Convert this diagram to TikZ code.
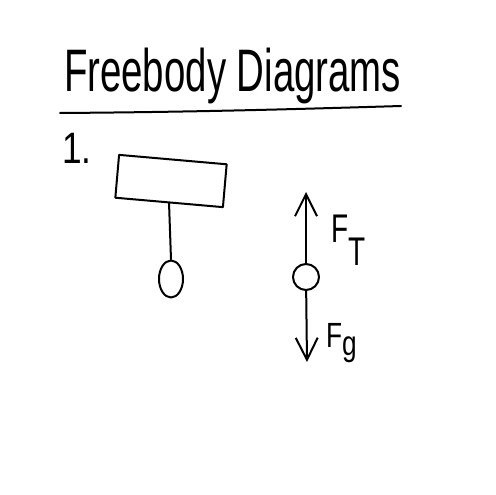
\documentclass[tikz,border=0pt]{standalone}
\usepackage{fontspec}
\setmainfont{Liberation Sans}
\usetikzlibrary{shapes.geometric}
\usetikzlibrary{positioning}
\usetikzlibrary{arrows.meta}

\begin{document}
\begin{tikzpicture}[x=1pt,y=-1pt,line width=2pt,line cap=round,line join=round,
	>={Straight Barb[length=22pt,width=22pt]},
	force/.style={->},
	hand/.style={inner sep=0pt,outer sep=0pt},
	block node/.style={draw,rectangle,minimum width=108pt,minimum height=43pt,inner sep=0pt,rotate=-5},
	mass node/.style={draw,ellipse,minimum width=24pt,minimum height=37pt,inner sep=0pt},
	body node/.style={draw,circle,minimum size=26pt,inner sep=0pt}]
	
	\useasboundingbox (0,0) rectangle (495,495);
	
	% heading
	\node[hand,anchor=base west] (title) at (64,92)
	{\scalebox{0.64}[1]{\fontsize{60}{60}\selectfont Freebody Diagrams}};
	\draw (60,113) .. controls (200,112) and (300,109) .. (401,106);
	
	% part 1: the hanging mass
	\node[hand,anchor=base west] (num) at (62,163) {\scalebox{0.8}[1]{\fontsize{44}{44}\selectfont 1.}};
	\node[block node] (ceiling) at (171,181) {};
	\node[mass node] (ball) at (171,279) {};
	\draw (ceiling.south) -- (ball.north);
	
	% free body diagram
	\node[body node] (body) at (306,277) {};
	\coordinate (up) at (306,192);
	\coordinate (down) at (307,362);
	\draw[force] (body) -- (up);
	\draw[force] (body) -- (down);
	
	\node[hand,anchor=base west] (ft) at (331,242)
	{\scalebox{0.7}[1]{\fontsize{40}{40}\selectfont F\raisebox{-23pt}{T}}};
	\node[hand,anchor=base west] (fg) at (326,347)
	{\scalebox{0.75}[1]{\fontsize{35}{35}\selectfont F\raisebox{-8pt}{g}}};
\end{tikzpicture}
\end{document}
